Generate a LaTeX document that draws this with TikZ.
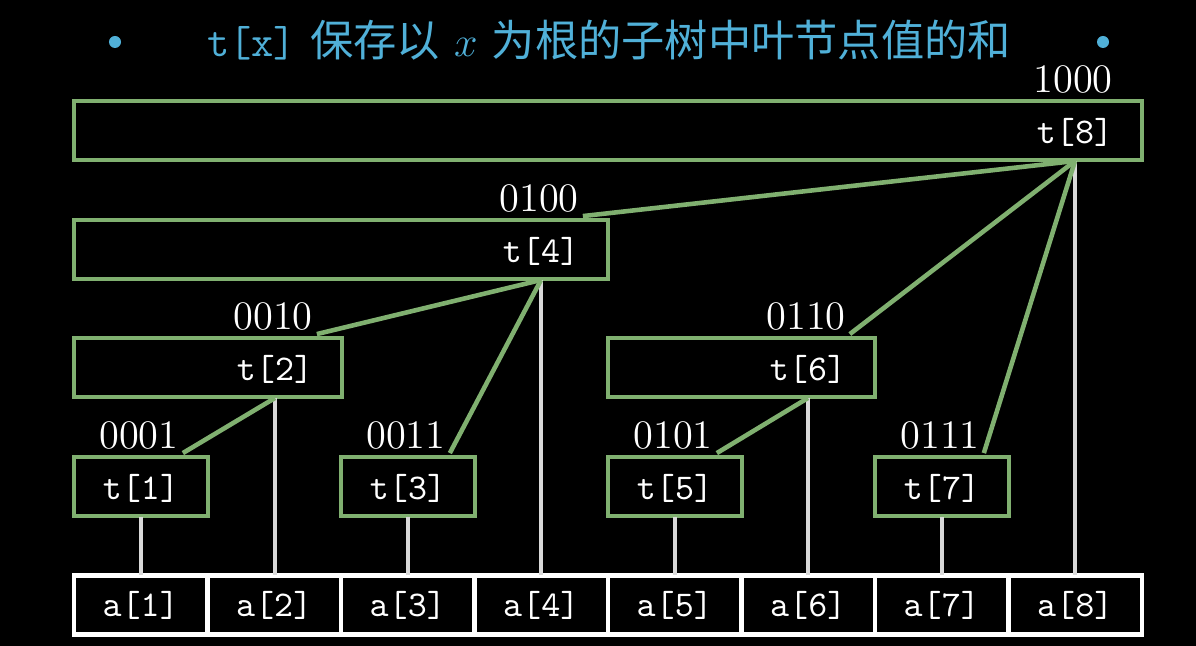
\documentclass[tikz,border=0pt]{standalone}
\usepackage{fontspec}
\newfontfamily\cjk{Noto Sans CJK SC}
\definecolor{tgreen}{RGB}{128,176,112}
\definecolor{tcyan}{RGB}{80,176,216}
\begin{document}
\begin{tikzpicture}[x=0.01cm,y=-0.01cm,
  tbox/.style={draw=tgreen,line width=1.3pt},
  abox/.style={draw=white,line width=1.3pt,minimum width=1.335cm,minimum height=0.59cm,inner sep=0pt,text=white,font=\ttfamily\fontsize{10.3}{11}\selectfont},
  tlab/.style={text=white,font=\ttfamily\fontsize{10.3}{11}\selectfont,inner sep=1pt},
  bits/.style={text=white,fill=black,font=\fontsize{11.5}{12}\selectfont,inner sep=1pt},
  edge/.style={tgreen,line width=1.3pt},
  down/.style={white!85!black,line width=1.3pt}]
\fill[black] (0,0) rectangle (1196,646);
% title
\fill[tcyan] (115,42) circle (0.06cm);
\fill[tcyan] (1103,42) circle (0.06cm);
\node[text=tcyan,font=\fontsize{12.3}{14}\selectfont] (title) at (609,40) {\texttt{t[x]} {\cjk 保存以} $x$ {\cjk 为根的子树中叶节点值的和}};
% array a
\foreach \i in {1,...,8}
  \node[abox] (a\i) at ({74+133.5*(\i-0.5)},605) {a[\i]};
% tree boxes: name/left/right/top/label x/bits
\foreach \n/\l/\r/\t/\x/\b in {8/74/1142/101/1075/1000,4/74/608/220/541/0100,
    2/74/342/338/275/0010,6/608/875/338/808/0110,1/74/208/457/141/0001,
    3/341/475/457/408/0011,5/608/742/457/675/0101,7/875/1009/457/942/0111}{
  \draw[tbox] (\l,\t) rectangle (\r,\t+59);
  \node[tlab] (t\n) at (\x,\t+31) {t[\n]};
  \coordinate (p\n) at (\x,\t+60);
  \draw[down] (p\n) -- (\x,575);
  \node[bits] (n\n) at (\x-2,\t-22) {\b};
}
% parent links
\foreach \p/\c in {8/4,8/6,8/7,4/2,4/3,2/1,6/5}
  \draw[edge] (p\p) -- (n\c.south east);
\end{tikzpicture}
\end{document}
